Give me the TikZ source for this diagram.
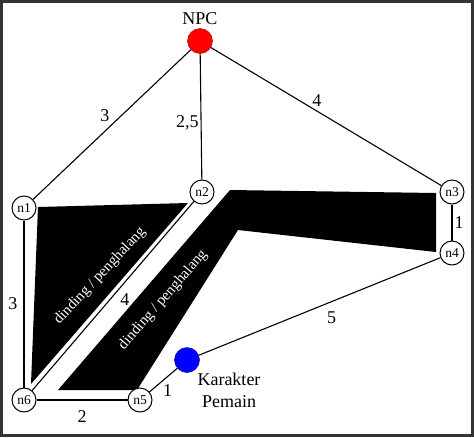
\documentclass[tikz,border=0pt]{standalone}
\usepackage{fontspec}
\setmainfont{Liberation Serif}
\usetikzlibrary{positioning}

\tikzset{
  simpul/.style={circle, draw, fill=white, line width=1pt, minimum size=24pt, inner sep=0pt, font=\fontsize{13.5}{13.5}\selectfont},
  titik/.style={circle, minimum size=25pt, inner sep=0pt, line width=0.5pt},
  bobot/.style={font=\fontsize{18}{22}\selectfont, inner sep=2pt},
  tembok/.style={fill=black},
  teks tembok/.style={text=white, font=\fontsize{15}{15}\selectfont}
}

\begin{document}
\begin{tikzpicture}[x=1pt, y=-1pt, line width=1.1pt]
            \useasboundingbox (0,0) rectangle (474,437);
            \draw[line width=3pt, black!80] (1.5,1.5) rectangle (472.5,435.5);

            % dinding / penghalang
            \fill[tembok] (38,207) -- (188,203) -- (31,384) -- cycle;
            \fill[tembok] (58,390) -- (137,390) -- (238,230) -- (436,252) -- (436,193) -- (230,190) -- cycle;
            \node[teks tembok, rotate=47] (dinding1) at (100,276) {dinding / penghalang};
            \node[teks tembok, rotate=49] (dinding2) at (163,300) {dinding / penghalang};

            \node[titik, fill=red, draw=red!75!black, label={[bobot, label distance=1pt]90:NPC}] (npc) at (200,41) {};
            \node[simpul] (n1) at (24,208) {n1};
            \node[simpul] (n2) at (202,192) {n2};
            \node[simpul] (n3) at (452,192) {n3};
            \node[simpul] (n4) at (452,253) {n4};
            \node[simpul] (n5) at (140,400) {n5};
            \node[simpul] (n6) at (24,400) {n6};
            \node[titik, fill=blue, draw=blue!75!black] (pemain) at (187,360) {};
            \node[bobot, align=center] (teksPemain) at (229,390) {Karakter\\Pemain};

            \draw (npc) -- node[bobot, above left] {3} (n1);
            \draw (npc) -- node[bobot, left, pos=0.55] {2,5} (n2);
            \draw (npc) -- node[bobot, above=2pt, pos=0.46] {4} (n3);
            \draw (n1) -- node[bobot, left=4pt] {3} (n6);
            \draw (n2) -- node[bobot, right=8pt, pos=0.52] {4} (n6);
            \draw (n3) -- node[bobot, right] {1} (n4);
            \draw (pemain) -- node[bobot, below=8pt, pos=0.55] {5} (n4);
            \draw (pemain) -- node[bobot, below right, pos=0.6] {1} (n5);
            \draw (n5) -- node[bobot, below=8pt] {2} (n6);
        \end{tikzpicture}
\end{document}
